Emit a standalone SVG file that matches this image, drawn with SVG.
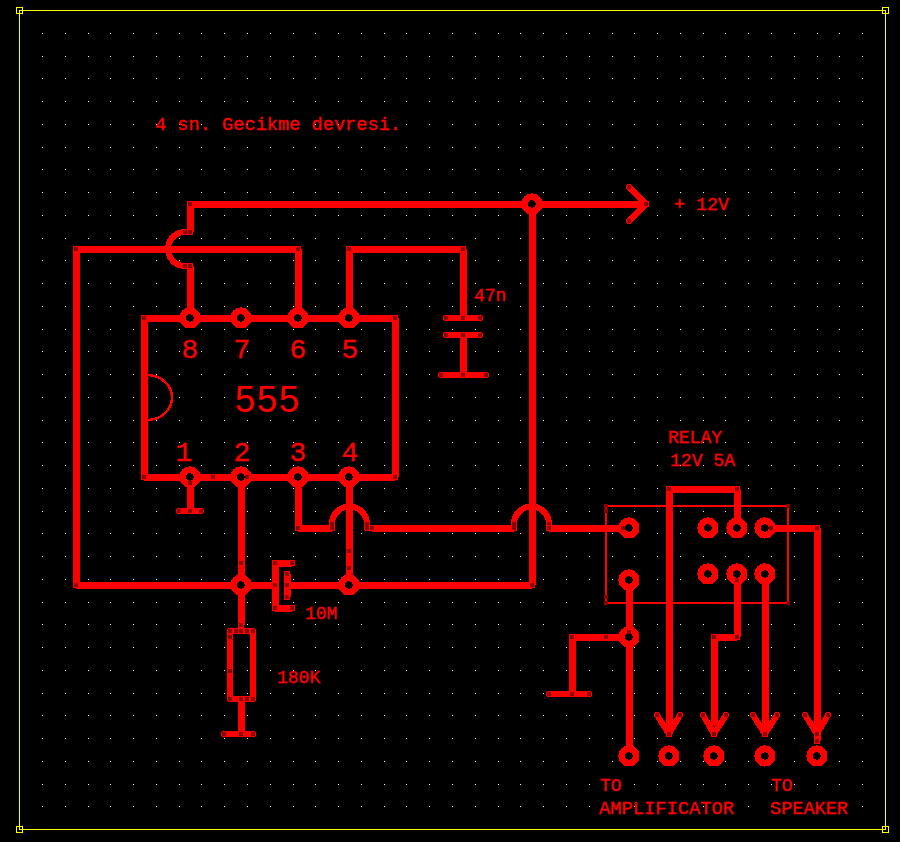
<svg xmlns="http://www.w3.org/2000/svg" width="900" height="842" viewBox="0 0 900 842" shape-rendering="crispEdges">
<style>
.w{fill:none;stroke:#f00;stroke-width:7;stroke-linecap:round;stroke-linejoin:round;marker-start:url(#m);marker-mid:url(#m);marker-end:url(#m)}
.n{stroke-width:6}
.a{stroke-width:6}
.t{fill:none;stroke:#f00;stroke-width:2}
.pad{fill:#000;stroke:#f00;stroke-width:6.9}
.k{fill:#8b0000}
text{fill:#f00;stroke:#f00;stroke-width:.35;font-family:"Liberation Mono","DejaVu Sans Mono",monospace;font-size:18px}
.pin{font-size:28px;text-anchor:middle}
</style>
<defs>
<marker id="m" markerUnits="userSpaceOnUse" markerWidth="4" markerHeight="4" refX="2" refY="2" overflow="visible"><rect width="4" height="4" fill="#8b0000"/></marker>
</defs>
<rect width="900" height="842" fill="#000"/>
<path id="grid" fill="none" stroke="#fff" stroke-width="1" stroke-dasharray="1 21.78" d="M42 33.5H864M42 56.5H864M42 78.5H864M42 101.5H864M42 124.5H864M42 147.5H864M42 169.5H864M42 192.5H864M42 215.5H864M42 238.5H864M42 260.5H864M42 283.5H864M42 306.5H864M42 329.5H864M42 351.5H864M42 374.5H864M42 397.5H864M42 420.5H864M42 442.5H864M42 465.5H864M42 488.5H864M42 511.5H864M42 533.5H864M42 556.5H864M42 579.5H864M42 602.5H864M42 624.5H864M42 647.5H864M42 670.5H864M42 693.5H864M42 715.5H864M42 738.5H864M42 761.5H864M42 784.5H864M42 806.5H864"/>
<g id="board" fill="none" stroke="#ff0" stroke-width="1.5">
<rect x="19.5" y="10.5" width="866" height="819"/>
<rect x="16.5" y="7.5" width="6" height="6"/><rect x="882.5" y="7.5" width="6" height="6"/>
<rect x="16.5" y="826.5" width="6" height="6"/><rect x="882.5" y="826.5" width="6" height="6"/>
</g>
<g id="connectors">
<path class="w" d="M532 204H190V232"/>
<path class="w a" d="M190 232H185A17 17 0 0 0 185 266H190"/>
<path class="w" d="M190 266V318"/>
<path class="w" d="M532 204H646"/>
<path class="w n" d="M629 187L646 204L629 221"/>
<path class="w" d="M298 318V249H76V585H241"/>
<path class="w" d="M349 318V249H463V318"/>
<path class="w" d="M532 204V585H287"/>
<path class="w" d="M241 477V563V585V625"/>
<path class="w" d="M190 477V511"/>
<path class="w" d="M241 585H275"/>
<path class="w" d="M349 477V551V568V585"/>
<path class="w" d="M298 477V528H332"/>
<path class="w a" d="M332 528V524A17.5 17.5 0 0 1 367 524V528"/>
<path class="w" d="M372 528H514"/>
<path class="w a" d="M514 528V524A17.5 17.5 0 0 1 549 524V528"/>
<path class="w" d="M549 528H623"/>
<path class="w" d="M629 580V637V756"/>
<path class="w" d="M629 637H606H572V694"/>
<path class="w" d="M737 528V489H669V734"/>
<path class="w" d="M737 574V637H714V727V734"/>
<path class="w" d="M765 574V734"/>
<path class="w" d="M771 528H817V734V741"/>
<path class="w n" d="M657 715L669 734L680 715"/>
<path class="w n" d="M703 715L714 734L726 715"/>
<path class="w n" d="M753 715L765 734L777 715"/>
<path class="w n" d="M805 715L817 734L828 715"/>
<path class="w n" d="M549 694H572H589"/>
</g>
<g id="ic555">
<path class="w" d="M144 318H395V477H213H144Z"/>
<path fill="none" stroke="#f00" stroke-width="2.5" d="M147 375A25 22.5 0 0 1 147 420"/>
<circle class="pad" cx="190" cy="318" r="7.15"/><circle class="pad" cx="241" cy="318" r="7.15"/><circle class="pad" cx="298" cy="318" r="7.15"/><circle class="pad" cx="349" cy="318" r="7.15"/>
<circle class="pad" cx="190" cy="477" r="7.15"/><circle class="pad" cx="241" cy="477" r="7.15"/><circle class="pad" cx="298" cy="477" r="7.15"/><circle class="pad" cx="349" cy="477" r="7.15"/>
<text x="267" y="412" textLength="66" lengthAdjust="spacingAndGlyphs" text-anchor="middle" style="font-size:38px;stroke-width:0">555</text>
<text class="pin" x="190" y="358">8</text><text class="pin" x="242" y="358">7</text><text class="pin" x="298" y="358">6</text><text class="pin" x="350" y="358">5</text>
<text class="pin" x="184" y="461">1</text><text class="pin" x="242" y="461">2</text><text class="pin" x="298" y="461">3</text><text class="pin" x="350" y="461">4</text>
<rect class="k" x="245" y="475" width="4" height="4"/><rect class="k" x="188" y="481" width="4" height="4"/>
</g>
<g id="gnd-pin1"><path class="w n" d="M179 511H190H201"/></g>
<g id="cap-47n">
<path class="w n" d="M446 318H463H480"/>
<path class="w n" d="M446 335H463H480"/>
<path class="w" d="M463 335V375"/>
<path class="w n" d="M441 375H463H486"/>
<text x="474" y="301">47n</text>
</g>
<g id="cap-10M">
<path class="w" d="M292 563H275V585V608H292"/>
<path class="w" d="M287 574V585V597"/>
<text x="305" y="619">10M</text>
</g>
<g id="res-180K">
<path class="w n" d="M230 631H236H241H247H253V699H247H241H230V671V637Z"/>
<path class="w" d="M241 699V734"/>
<path class="w n" d="M224 734H241H253"/>
<text x="277" y="683">180K</text>
</g>
<g id="relay">
<rect class="t" x="606" y="506" width="182" height="97"/>
<g class="k"><rect x="604" y="504" width="4" height="4"/><rect x="604" y="509" width="4" height="4"/><rect x="786" y="504" width="4" height="4"/><rect x="604" y="595" width="4" height="4"/><rect x="604" y="601" width="4" height="4"/><rect x="786" y="601" width="4" height="4"/></g>
<circle class="pad" cx="629" cy="528" r="7.15"/><circle class="pad" cx="708" cy="528" r="7.15"/><circle class="pad" cx="737" cy="528" r="7.15"/><circle class="pad" cx="765" cy="528" r="7.15"/>
<circle class="pad" cx="629" cy="580" r="7.15"/><circle class="pad" cx="708" cy="574" r="7.15"/><circle class="pad" cx="737" cy="574" r="7.15"/><circle class="pad" cx="765" cy="574" r="7.15"/>
<rect class="k" x="621" y="526" width="4" height="4"/><rect class="k" x="769" y="526" width="4" height="4"/><rect class="k" x="735" y="578" width="4" height="4"/>
<text x="668" y="443">RELAY</text>
<text x="670" y="466" textLength="65" lengthAdjust="spacingAndGlyphs">12V 5A</text>
</g>
<g id="junctions">
<circle class="pad" cx="532" cy="204" r="7.15"/><circle class="pad" cx="241" cy="585" r="7.15"/><circle class="pad" cx="349" cy="585" r="7.15"/><circle class="pad" cx="629" cy="637" r="7.15"/>
<rect class="k" x="627" y="630" width="4" height="4"/>
</g>
<g id="terminals">
<circle class="pad" cx="629" cy="756" r="7.15"/><circle class="pad" cx="669" cy="756" r="7.15"/><circle class="pad" cx="714" cy="756" r="7.15"/><circle class="pad" cx="765" cy="756" r="7.15"/><circle class="pad" cx="817" cy="756" r="7.15"/>
<text x="600" y="791">TO</text>
<text x="599" y="814" textLength="135" lengthAdjust="spacingAndGlyphs">AMPLIFICATOR</text>
<text x="771" y="791">TO</text>
<text x="770" y="814" textLength="78" lengthAdjust="spacingAndGlyphs">SPEAKER</text>
</g>
<g id="labels">
<text x="155" y="130" textLength="246" lengthAdjust="spacingAndGlyphs">4 sn. Gecikme devresi.</text>
<text x="674" y="210" textLength="55" lengthAdjust="spacingAndGlyphs">+ 12V</text>
</g>
</svg>
